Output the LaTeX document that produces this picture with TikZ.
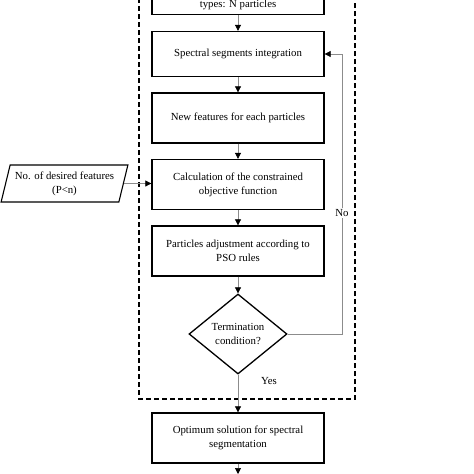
\documentclass[tikz,border=0pt]{standalone}
\usepackage{fontspec}
\setmainfont{Liberation Serif}
\usetikzlibrary{arrows.meta,shapes.geometric}
\begin{document}
\begin{tikzpicture}[x=1pt,y=-1pt,
  box/.style={draw=black,line width=1.3pt,minimum width=172pt,align=center,font=\fontsize{10.8}{14}\selectfont,inner sep=2pt},
  conn/.style={draw=black!45,line width=0.7pt,-{Triangle[length=6pt,width=6pt,color=black,fill=black]}},
  lbl/.style={font=\fontsize{10.8}{14}\selectfont,fill=white,inner sep=1pt}]
\useasboundingbox (0,0) rectangle (474,474);
\clip (0,0) rectangle (474,474);
% dashed frame
\draw[line width=1.1pt,dash pattern=on 5pt off 3pt] (139,-10) rectangle (355,399);
% boxes
\node[box,text height=32pt,text depth=4.5pt,anchor=south] (b1) at (238,15) {types: N particles};
\node[box,minimum height=45pt] (b2) at (238,54) {Spectral segments integration};
\node[box,minimum height=50pt] (b3) at (238,118) {New features for each particles};
\node[box,minimum height=50pt] (b4) at (238,184.5) {Calculation of the constrained\\objective function};
\node[box,minimum height=50pt] (b5) at (238,251) {Particles adjustment according to\\PSO rules};
\node[diamond,draw=black,line width=1.3pt,minimum width=98pt,minimum height=80pt,inner sep=-8pt,align=center,font=\fontsize{10.8}{14}\selectfont] (d) at (238,334) {Termination\\condition?};
\node[box,minimum height=50pt] (b6) at (238,438) {Optimum solution for spectral\\segmentation};
\node[trapezium,trapezium left angle=72,trapezium right angle=108,trapezium stretches=true,draw=black,line width=1.1pt,minimum width=127pt,minimum height=37pt,inner sep=1pt,align=center,font=\fontsize{10.8}{14}\selectfont] (p) at (64.5,183.5) {No. of desired features\\(P<n)};
\coordinate (end) at (238,474);
\coordinate (nr) at (342,334);
\coordinate (nt) at (342,54);
% connectors
\draw[conn] (b1) -- (b2);
\draw[conn] (b2) -- (b3);
\draw[conn] (b3) -- (b4);
\draw[conn] (b4) -- (b5);
\draw[conn] (b5) -- (d);
\draw[conn] (d) -- (b6);
\draw[conn] (b6) -- (end);
\draw[conn] (p.east |- 0,183.5) -- (b4.west |- 0,183.5);
\draw[conn] (d.east) -- (nr) -- (nt) -- (b2.east);
\node[lbl] (no) at (342,213) {No};
\node[font=\fontsize{10.8}{14}\selectfont] (yes) at (269,381) {Yes};
\end{tikzpicture}
\end{document}
